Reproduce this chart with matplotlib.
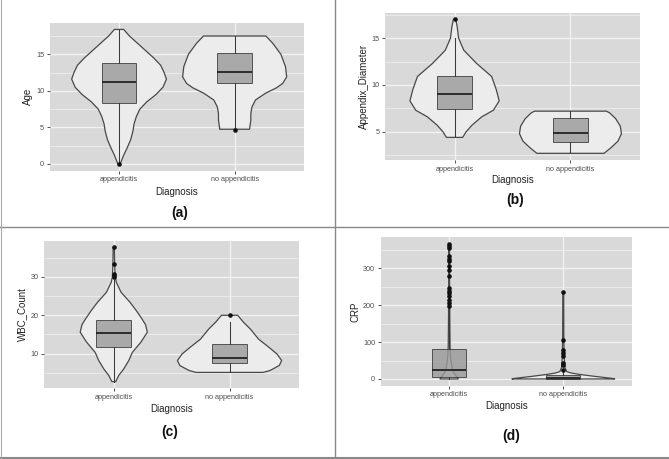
import matplotlib
matplotlib.use("Agg")
import matplotlib.pyplot as plt
from matplotlib.lines import Line2D

plt.rcParams['font.family'] = ['Liberation Sans', 'DejaVu Sans']

W, H = 669, 459
categories = ["appendicitis", "no appendicitis"]

# ---------------- Panel (a): Age ----------------
a_app_y = [0, 0.4, 1.2, 2.2, 3.3, 4.5, 5.5, 6.5, 7.5, 8.5, 9.5, 10.5, 11.6, 12.5, 13.5, 14.5, 15.5, 16.5, 17.5, 18.4]
a_app_w = [0.01, 0.02, 0.04, 0.07, 0.10, 0.12, 0.13, 0.15, 0.18, 0.24, 0.32, 0.38, 0.41, 0.39, 0.36, 0.30, 0.23, 0.16, 0.09, 0.04]
a_no_y = [4.75, 4.9, 6.0, 6.9, 7.8, 8.75, 9.7, 10.4, 11.0, 11.9, 13.3, 15.0, 16.5, 17.5]
a_no_w = [0.13, 0.13, 0.14, 0.14, 0.15, 0.18, 0.27, 0.36, 0.415, 0.45, 0.44, 0.40, 0.33, 0.27]
a_box = {"q1": [8.39, 11.04], "med": [11.17, 12.63], "q3": [13.77, 15.14],
         "lo": [0.3, 4.9], "hi": [18.4, 17.5]}
a_fliers = [[0.0], [4.7]]
a_yticks = [0, 5, 10, 15]

# ---------------- Panel (b): Appendix_Diameter ----------------
b_app_y = [4.4, 5.0, 5.7, 6.6, 7.3, 8.3, 9.5, 10.9, 12.3, 13.7, 15.0, 16.2, 17.0]
b_app_w = [0.07, 0.10, 0.15, 0.235, 0.335, 0.385, 0.36, 0.32, 0.19, 0.08, 0.035, 0.023, 0.01]
b_no_y = [2.7, 3.3, 4.0, 4.8, 5.6, 6.4, 7.0, 7.2]
b_no_w = [0.29, 0.35, 0.41, 0.44, 0.43, 0.39, 0.34, 0.31]
b_box = {"q1": [7.45, 3.87], "med": [9.0, 4.9], "q3": [11.0, 6.5],
         "lo": [4.4, 2.7], "hi": [15.0, 7.2]}
b_fliers = [[17.0], []]
b_yticks = [5, 10, 15]

# ---------------- Panel (c): WBC_Count ----------------
c_app_y = [2.7, 4.3, 6.0, 8.2, 10.3, 13.0, 15.6, 17.5, 19.0, 21.2, 23.4, 26.0, 28.6, 30.0, 33.0, 37.7]
c_app_w = [0.017, 0.043, 0.086, 0.13, 0.16, 0.235, 0.29, 0.275, 0.245, 0.195, 0.14, 0.063, 0.022, 0.012, 0.008, 0.005]
c_no_y = [5.1, 5.6, 6.9, 8.2, 9.9, 11.65, 13.8, 16.4, 18.2, 20.0]
c_no_w = [0.29, 0.35, 0.43, 0.45, 0.41, 0.34, 0.25, 0.18, 0.12, 0.07]
c_box = {"q1": [11.65, 7.5], "med": [15.4, 8.9], "q3": [18.8, 12.4],
         "lo": [2.7, 5.1], "hi": [29.3, 18.3]}
c_fliers = [[30.0, 30.4, 30.8, 33.4, 37.7], [20.0]]
c_yticks = [10, 20, 30]

# ---------------- Panel (d): CRP ----------------
d_app_y = [0, 3, 8, 15, 25, 40, 60, 90, 150, 250, 366]
d_app_w = [0.08, 0.075, 0.06, 0.045, 0.03, 0.02, 0.012, 0.008, 0.006, 0.004, 0.003]
d_no_y = [0, 1, 4, 8, 12, 16, 20, 30, 60, 120, 236]
d_no_w = [0.45, 0.44, 0.36, 0.25, 0.15, 0.07, 0.03, 0.015, 0.008, 0.005, 0.004]
d_box = {"q1": [4.5, 0.5], "med": [24.5, 2.5], "q3": [81.6, 10.0],
         "lo": [0.0, 0.0], "hi": [196.0, 20.0]}
d_fliers = [[199, 206, 215, 224, 233, 239, 247, 278, 296, 306, 319, 326, 333, 355, 362, 366],
            [24, 38, 44, 61, 70, 79, 106, 236]]
d_yticks = [0, 100, 200, 300]

panels = [
    dict(ylabel="Age", cap="(a)", vy=[(a_app_y, a_app_w), (a_no_y, a_no_w)], box=a_box, fl=a_fliers,
         yt=a_yticks, rect=(49.7, 22.7, 304, 170.7), ylab_x=28, xlab_y=192, cap_xy=(180, 213)),
    dict(ylabel="Appendix_Diameter", cap="(b)", vy=[(b_app_y, b_app_w), (b_no_y, b_no_w)], box=b_box, fl=b_fliers,
         yt=b_yticks, rect=(385, 12.7, 640, 160), ylab_x=364, xlab_y=180, cap_xy=(515, 200)),
    dict(ylabel="WBC_Count", cap="(c)", vy=[(c_app_y, c_app_w), (c_no_y, c_no_w)], box=c_box, fl=c_fliers,
         yt=c_yticks, rect=(44.3, 240.7, 299, 388.3), ylab_x=22, xlab_y=409, cap_xy=(170, 432)),
    dict(ylabel="CRP", cap="(d)", vy=[(d_app_y, d_app_w), (d_no_y, d_no_w)], box=d_box, fl=d_fliers,
         yt=d_yticks, rect=(380.7, 237.3, 631.7, 385.7), ylab_x=355, xlab_y=406, cap_xy=(511, 436)),
]

fig = plt.figure(figsize=(W / 100, H / 100), dpi=100)
fig.patch.set_facecolor("white")

BG = "#d9d9d9"
GRID = "#f2f2f2"
VFILL = "#ececec"
LINE = "#484848"

for p in panels:
    x0, y0, x1, y1 = p["rect"]
    ax = fig.add_axes([x0 / W, 1 - y1 / H, (x1 - x0) / W, (y1 - y0) / H])
    ax.set_facecolor(BG)
    for s in ax.spines.values():
        s.set_visible(False)
    allv = []
    for (yy, ww) in p["vy"]:
        allv += yy
    for f in p["fl"]:
        allv += f
    lo, hi = min(allv), max(allv)
    r = hi - lo
    ax.set_ylim(lo - 0.05 * r, hi + 0.05 * r)
    ax.set_xlim(0.4, 2.6)
    # grid
    yt = p["yt"]
    step = yt[1] - yt[0]
    minors = [t + step / 2 for t in [yt[0] - step] + yt]
    for m in minors:
        ax.axhline(m, color=GRID, lw=0.5, zorder=0.5)
    for t in yt:
        ax.axhline(t, color=GRID, lw=1.0, zorder=0.6)
    for xc in (1, 2):
        ax.axvline(xc, color=GRID, lw=1.0, zorder=0.6)
    # violins
    for i, (yy, ww) in enumerate(p["vy"]):
        pos = i + 1
        xs = [pos - w for w in ww] + [pos + w for w in ww[::-1]]
        ys = list(yy) + list(yy[::-1])
        ax.fill(xs, ys, facecolor=VFILL, edgecolor=LINE, lw=0.9, zorder=2, closed=True,
                joinstyle="round")
    # boxes
    b = p["box"]
    stats = []
    for i in range(2):
        stats.append(dict(med=b["med"][i], q1=b["q1"][i], q3=b["q3"][i],
                          whislo=b["lo"][i], whishi=b["hi"][i], fliers=p["fl"][i]))
    ax.bxp(stats, positions=[1, 2], widths=0.3, showcaps=False, patch_artist=True,
           boxprops=dict(facecolor="#999999", alpha=0.8, edgecolor="#333333", lw=0.7),
           medianprops=dict(color="#222222", lw=1.3),
           whiskerprops=dict(color="#3a3a3a", lw=0.75),
           flierprops=dict(marker="o", markersize=2.3, markerfacecolor="#111111",
                           markeredgecolor="#111111", lw=0),
           zorder=3, manage_ticks=False)
    ax.set_xticks([1, 2])
    ax.set_xticklabels(categories)
    ax.set_yticks(yt)
    ax.set_yticklabels([str(t) for t in yt])
    ax.tick_params(axis="both", length=2.5, width=0.6, color="#333333",
                   labelsize=5.2, labelcolor="#4d4d4d", pad=1.5)
    # labels
    fig.text(p["ylab_x"] / W, 1 - ((y0 + y1) / 2) / H, p["ylabel"], rotation=90,
             ha="center", va="center", fontsize=7, color="#222222")
    fig.text(((x0 + x1) / 2) / W, 1 - p["xlab_y"] / H, "Diagnosis",
             ha="center", va="center", fontsize=7, color="#222222")
    fig.text(p["cap_xy"][0] / W, 1 - p["cap_xy"][1] / H, p["cap"],
             ha="center", va="center", fontsize=10, fontweight="bold", color="#111111")

# panel dividers / border
bc = "#888888"
fig.add_artist(Line2D([335 / W, 335 / W], [0, 1], color=bc, lw=1.0))
fig.add_artist(Line2D([0, 1], [1 - 226.7 / H, 1 - 226.7 / H], color=bc, lw=1.0))
fig.add_artist(Line2D([0, 1], [1 - 458 / H, 1 - 458 / H], color=bc, lw=1.5))
fig.add_artist(Line2D([1.0 / W, 1.0 / W], [0, 1], color="#aaaaaa", lw=0.8))

fig.savefig("out.png", dpi=100)
